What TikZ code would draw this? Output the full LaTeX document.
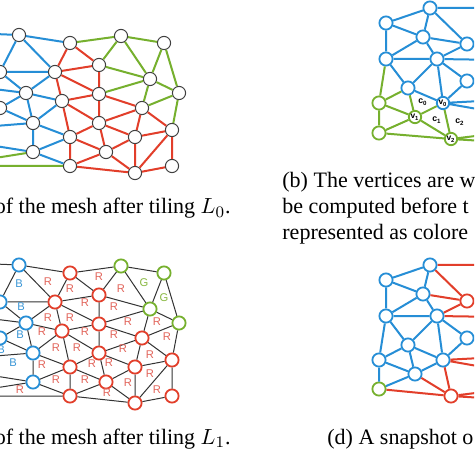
\documentclass[tikz,border=0pt]{standalone}
\usepackage{amsmath}
\usepackage{fontspec}
\setmainfont{Liberation Serif}
\setsansfont{Liberation Sans}
\usepackage{xcolor}
\usepackage{tikz}

\definecolor{meshblue}{RGB}{38,142,214}
\definecolor{meshred}{RGB}{226,62,42}
\definecolor{meshgreen}{RGB}{118,176,46}
\definecolor{facered}{RGB}{226,100,90}
\definecolor{faceblue}{RGB}{58,150,214}
\definecolor{facegreen}{RGB}{136,184,64}

\begin{document}
\begin{tikzpicture}[
    x=0.5pt, y=-0.5pt,
    vtx/.style={circle, draw=black!75, fill=white, line width=0.5pt, minimum size=6.6pt, inner sep=0pt},
    vblue/.style={vtx, draw=meshblue, line width=0.9pt},
    vred/.style={vtx, draw=meshred, line width=0.9pt},
    vgreen/.style={vtx, draw=meshgreen, line width=0.9pt},
    vname/.style={font=\fontsize{4.2}{4.2}\selectfont\sffamily\bfseries, minimum size=6.2pt},
    blueedge/.style={meshblue, line width=1pt},
    rededge/.style={meshred, line width=1pt},
    greenedge/.style={meshgreen, line width=1pt},
    plainedge/.style={black!80, line width=0.5pt},
    facelab/.style={font=\fontsize{5.6}{6}\selectfont\sffamily, inner sep=0pt},
    cornerlab/.style={font=\fontsize{4.4}{5}\selectfont\sffamily\bfseries, inner sep=0pt},
    caption/.style={font=\fontsize{11}{13}\selectfont, inner sep=0pt}
]
\useasboundingbox (0,0) rectangle (474,474);
\fill[white] (0,0) rectangle (474,474);
\clip (0,0) rectangle (474,474);

% (a) mesh after tiling L0
\coordinate (aw1) at (-30,33);
\coordinate (aw2) at (-30,86);
\coordinate (aw3) at (-30,128);
\coordinate (aw4) at (-30,142);
\coordinate (aw5) at (-30,162);
\coordinate (aw6) at (-30,166);
\node[vtx] (a1) at (19,35) {};
\node[vtx] (a2) at (70,43) {};
\node[vtx] (a3) at (121,36) {};
\node[vtx] (a4) at (164,43) {};
\node[vtx] (a5) at (0,72) {};
\node[vtx] (a6) at (55,72) {};
\node[vtx] (a7) at (99,65) {};
\node[vtx] (a8) at (150,79) {};
\node[vtx] (a9) at (179,93) {};
\node[vtx] (a10) at (26,93) {};
\node[vtx] (a11) at (62,101) {};
\node[vtx] (a12) at (99,94) {};
\node[vtx] (a13) at (142,108) {};
\node[vtx] (a14) at (0,108) {};
\node[vtx] (a15) at (33,123) {};
\node[vtx] (a16) at (99,123) {};
\node[vtx] (a17) at (70,137) {};
\node[vtx] (a18) at (135,137) {};
\node[vtx] (a19) at (172,130) {};
\node[vtx] (a20) at (33,152) {};
\node[vtx] (a21) at (106,152) {};
\node[vtx] (a22) at (70,166) {};
\node[vtx] (a23) at (135,173) {};
\node[vtx] (a24) at (172,166) {};
\draw[blueedge] (aw1) -- (a1) (a1) -- (a2) (a1) -- (a5) (a1) -- (a6) (a5) -- (a6)
    (a5) -- (a10) (aw2) -- (a10) (a6) -- (a10) (a10) -- (a11) (a10) -- (a14)
    (a10) -- (a15) (a14) -- (a15) (aw3) -- (a15) (a11) -- (a15) (a15) -- (a17)
    (a15) -- (a20) (a17) -- (a20) (aw4) -- (a20) (a20) -- (a22);
\draw[rededge] (a2) -- (a6) (a2) -- (a7) (a6) -- (a7) (a6) -- (a11) (a6) -- (a12)
    (a7) -- (a12) (a11) -- (a12) (a11) -- (a16) (a11) -- (a17) (a12) -- (a13)
    (a12) -- (a16) (a13) -- (a16) (a16) -- (a17) (a16) -- (a18) (a16) -- (a21)
    (a17) -- (a21) (a17) -- (a22) (a21) -- (a22) (a21) -- (a18) (a21) -- (a23)
    (a13) -- (a18) (a18) -- (a19) (a18) -- (a23) (a13) -- (a19) (a19) -- (a23)
    (a19) -- (a24) (a22) -- (a23) (a23) -- (a24);
\draw[greenedge] (a2) -- (a3) (a3) -- (a4) (a3) -- (a7) (a3) -- (a8) (a4) -- (a8)
    (a4) -- (a9) (a7) -- (a8) (a8) -- (a12) (a8) -- (a9) (a8) -- (a13)
    (a9) -- (a13) (a9) -- (a19) (aw5) -- (a20) (aw6) -- (a22);
\node[caption, anchor=base east] (capa) at (231,214) {of the mesh after tiling $L_0$.};

% (b) vertices written by the tiles
\coordinate (be1) at (500,8);
\coordinate (be2) at (500,40);
\coordinate (be3) at (500,60);
\coordinate (be4) at (500,84);
\coordinate (be5) at (500,100);
\coordinate (be6) at (500,113);
\coordinate (be7) at (500,133);
\coordinate (be8) at (500,142);
\node[vblue] (b1) at (430,8) {};
\node[vblue] (b2) at (386,23) {};
\node[vblue] (b3) at (423,37) {};
\node[vblue] (b4) at (467,44) {};
\node[vblue] (b5) at (386,59) {};
\node[vblue] (b6) at (437,59) {};
\node[vblue] (b7) at (467,81) {};
\node[vblue] (b8) at (408,88) {};
\node[vgreen] (b9) at (379,103) {};
\node[vblue, vname] (b10) at (443,103) {v\textsubscript{0}};
\node[vgreen, vname] (b11) at (415,117) {v\textsubscript{1}};
\node[vgreen] (b12) at (379,133) {};
\node[vgreen, vname] (b13) at (451,139) {v\textsubscript{2}};
\draw[blueedge] (b1) -- (b2) (b1) -- (b3) (b1) -- (be1) (b1) -- (b4) (b2) -- (b3)
    (b2) -- (b5) (b3) -- (b4) (b3) -- (b5) (b3) -- (b6) (b4) -- (b6) (b4) -- (be2)
    (b5) -- (b6) (b5) -- (b8) (b6) -- (b8) (b6) -- (b10) (b6) -- (b7) (b6) -- (be3)
    (b7) -- (b10) (b7) -- (be4) (b8) -- (b10) (b10) -- (be5) (b10) -- (be6);
\draw[greenedge] (b5) -- (b9) (b8) -- (b9) (b8) -- (b11) (b9) -- (b11) (b9) -- (b12)
    (b11) -- (b12) (b10) -- (b11) (b10) -- (b13) (b11) -- (b13) (b12) -- (b13)
    (b13) -- (be7) (b13) -- (be8);
\node[cornerlab] (lc0) at (423,102) {c\textsubscript{0}};
\node[cornerlab] (lc1) at (437,120) {c\textsubscript{1}};
\node[cornerlab] (lc2) at (460,122) {c\textsubscript{2}};
\node[caption, anchor=base west, align=left] (capb) at (282,240)
    {(b) The vertices are wr\\be computed before t\\represented as colore};

% (c) mesh after tiling L1
\coordinate (cw1) at (-30,263);
\coordinate (cw2) at (-30,316);
\coordinate (cw3) at (-30,358);
\coordinate (cw4) at (-30,372);
\coordinate (cw5) at (-30,392);
\coordinate (cw6) at (-30,396);
\node[vblue] (c1) at (19,265) {};
\node[vred] (c2) at (70,273) {};
\node[vgreen] (c3) at (121,266) {};
\node[vgreen] (c4) at (164,273) {};
\node[vblue] (c5) at (0,302) {};
\node[vred] (c6) at (55,302) {};
\node[vred] (c7) at (99,295) {};
\node[vgreen] (c8) at (150,309) {};
\node[vgreen] (c9) at (179,323) {};
\node[vblue] (c10) at (26,323) {};
\node[vred] (c11) at (62,331) {};
\node[vred] (c12) at (99,324) {};
\node[vred] (c13) at (142,338) {};
\node[vblue] (c14) at (0,338) {};
\node[vblue] (c15) at (33,353) {};
\node[vred] (c16) at (99,353) {};
\node[vred] (c17) at (70,367) {};
\node[vred] (c18) at (135,367) {};
\node[vred] (c19) at (172,360) {};
\node[vblue] (c20) at (33,382) {};
\node[vred] (c21) at (106,382) {};
\node[vred] (c22) at (70,396) {};
\node[vred] (c23) at (135,403) {};
\node[vred] (c24) at (172,396) {};
\draw[plainedge] (cw1) -- (c1) (c1) -- (c2) (c1) -- (c5) (c1) -- (c6) (c5) -- (c6)
    (c5) -- (c10) (cw2) -- (c10) (c6) -- (c10) (c10) -- (c11) (c10) -- (c14)
    (c10) -- (c15) (c14) -- (c15) (cw3) -- (c15) (c11) -- (c15) (c15) -- (c17)
    (c15) -- (c20) (c17) -- (c20) (cw4) -- (c20) (c20) -- (c22)
    (c2) -- (c6) (c2) -- (c7) (c6) -- (c7) (c6) -- (c11) (c6) -- (c12)
    (c7) -- (c12) (c11) -- (c12) (c11) -- (c16) (c11) -- (c17) (c12) -- (c13)
    (c12) -- (c16) (c13) -- (c16) (c16) -- (c17) (c16) -- (c18) (c16) -- (c21)
    (c17) -- (c21) (c17) -- (c22) (c21) -- (c22) (c21) -- (c18) (c21) -- (c23)
    (c13) -- (c18) (c18) -- (c19) (c18) -- (c23) (c13) -- (c19) (c19) -- (c23)
    (c19) -- (c24) (c22) -- (c23) (c23) -- (c24)
    (c2) -- (c3) (c3) -- (c4) (c3) -- (c7) (c3) -- (c8) (c4) -- (c8)
    (c4) -- (c9) (c7) -- (c8) (c8) -- (c12) (c8) -- (c9) (c8) -- (c13)
    (c9) -- (c13) (c9) -- (c19) (cw5) -- (c20) (cw6) -- (c22);
% face letters
\node[facelab, faceblue] (fb1) at (19,284) {B};
\node[facelab, faceblue] (fb2) at (21,307) {B};
\node[facelab, faceblue] (fb3) at (20,335) {B};
\node[facelab, faceblue] (fb4) at (1,350) {B};
\node[facelab, faceblue] (fb5) at (13,363) {B};
\node[facelab, facegreen] (fg1) at (144,283) {G};
\node[facelab, facegreen] (fg2) at (164,298) {G};
\node[facelab, facered] (fr1) at (48,282) {R};
\node[facelab, facered] (fr2) at (99,277) {R};
\node[facelab, facered] (fr3) at (70,289) {R};
\node[facelab, facered] (fr4) at (121,289) {R};
\node[facelab, facered] (fr5) at (85,303) {R};
\node[facelab, facered] (fr6) at (114,307) {R};
\node[facelab, facered] (fr7) at (48,318) {R};
\node[facelab, facered] (fr8) at (70,318) {R};
\node[facelab, facered] (fr9) at (128,322) {R};
\node[facelab, facered] (fr10) at (157,322) {R};
\node[facelab, facered] (fr11) at (42,332) {R};
\node[facelab, facered] (fr12) at (85,332) {R};
\node[facelab, facered] (fr13) at (114,335) {R};
\node[facelab, facered] (fr14) at (167,337) {R};
\node[facelab, facered] (fr15) at (56,348) {R};
\node[facelab, facered] (fr16) at (77,348) {R};
\node[facelab, facered] (fr17) at (123,349) {R};
\node[facelab, facered] (fr18) at (150,355) {R};
\node[facelab, facered] (fr19) at (42,365) {R};
\node[facelab, facered] (fr20) at (92,364) {R};
\node[facelab, facered] (fr21) at (109,363) {R};
\node[facelab, facered] (fr22) at (150,374) {R};
\node[facelab, facered] (fr23) at (56,380) {R};
\node[facelab, facered] (fr24) at (85,380) {R};
\node[facelab, facered] (fr25) at (128,383) {R};
\node[facelab, facered] (fr26) at (20,390) {R};
\node[facelab, facered] (fr27) at (107,393) {R};
\node[facelab, facered] (fr28) at (157,390) {R};
\node[caption, anchor=base east] (capc) at (231,444) {of the mesh after tiling $L_1$.};

% (d) snapshot
\coordinate (de1) at (500,265);
\coordinate (de2) at (500,297);
\coordinate (de3) at (500,317);
\coordinate (de4) at (500,341);
\coordinate (de5) at (500,357);
\coordinate (de6) at (500,370);
\coordinate (de7) at (500,390);
\coordinate (de8) at (500,399);
\node[vblue] (d1) at (430,265) {};
\node[vblue] (d2) at (386,280) {};
\node[vblue] (d3) at (423,294) {};
\node[vred] (d4) at (467,301) {};
\node[vblue] (d5) at (386,316) {};
\node[vblue] (d6) at (437,316) {};
\node[vblue] (d7) at (467,338) {};
\node[vblue] (d8) at (408,345) {};
\node[vblue] (d9) at (379,360) {};
\node[vblue] (d10) at (443,360) {};
\node[vblue] (d11) at (415,374) {};
\node[vgreen] (d12) at (379,389) {};
\node[vred] (d13) at (451,396) {};
\draw[blueedge] (d1) -- (d2) (d1) -- (d3) (d2) -- (d3) (d2) -- (d5) (d3) -- (d5)
    (d3) -- (d6) (d5) -- (d6) (d5) -- (d8) (d6) -- (d8) (d6) -- (d10) (d6) -- (d7)
    (d7) -- (d10) (d8) -- (d10) (d5) -- (d9) (d8) -- (d9) (d8) -- (d11)
    (d9) -- (d11) (d9) -- (d12) (d11) -- (d12) (d10) -- (d11);
\draw[rededge] (d1) -- (de1) (d1) -- (d4) (d3) -- (d4) (d6) -- (d4) (d4) -- (de2)
    (d6) -- (de3) (d7) -- (de4) (d10) -- (de5) (d10) -- (de6) (d10) -- (d13)
    (d11) -- (d13) (d12) -- (d13) (d13) -- (de7) (d13) -- (de8);
\node[caption, anchor=base west] (capd) at (327,444) {(d) A snapshot o};
\end{tikzpicture}
\end{document}
